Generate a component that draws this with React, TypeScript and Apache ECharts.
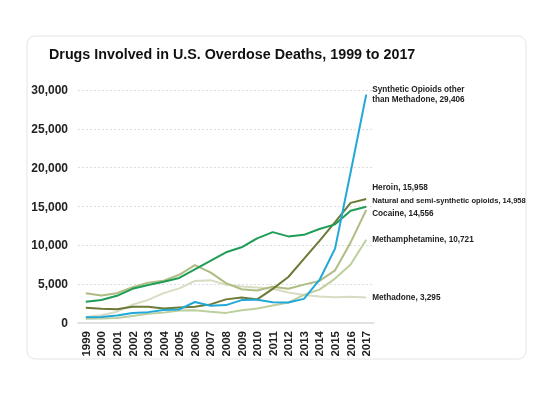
import React, { useEffect, useRef } from 'react';
import * as echarts from 'echarts';

const years = ['1999','2000','2001','2002','2003','2004','2005','2006','2007','2008','2009','2010','2011','2012','2013','2014','2015','2016','2017'];
const synthetic = [730, 782, 957, 1295, 1400, 1664, 1742, 2707, 2213, 2306, 2946, 3007, 2666, 2628, 3105, 5544, 9580, 19413, 29406];
const heroin = [1960, 1842, 1779, 2089, 2080, 1878, 2009, 2088, 2399, 3041, 3278, 3036, 4397, 5925, 8257, 10574, 12989, 15469, 15958];
const natural = [2750, 2950, 3500, 4400, 4900, 5300, 5800, 6900, 8000, 9100, 9750, 10900, 11700, 11150, 11350, 12100, 12700, 14450, 14958];
const cocaine = [3822, 3544, 3833, 4599, 5199, 5443, 6208, 7448, 6512, 5129, 4350, 4183, 4681, 4404, 4944, 5415, 6784, 10375, 14556];
const meth = [547, 578, 637, 916, 1183, 1336, 1606, 1631, 1437, 1302, 1632, 1854, 2266, 2635, 3627, 4298, 5716, 7542, 10721];
const methadone = [784, 988, 1456, 2358, 2972, 3845, 4460, 5406, 5518, 4924, 4696, 4577, 4418, 3932, 3591, 3400, 3301, 3373, 3295];
const yTicks = [0, 5000, 10000, 15000, 20000, 25000, 30000];

const FONT = '"Liberation Sans", Arial, sans-serif';

const seriesDefs = [
  { name: 'Methadone', data: methadone, color: '#d8dcc2', dy: 0, fs: 8.2 },
  { name: 'Methamphetamine', data: meth, color: '#bccf9c', dy: 0, fs: 8.2 },
  { name: 'Cocaine', data: cocaine, color: '#aebd83', dy: 4, fs: 8.2 },
  { name: 'Heroin', data: heroin, color: '#6b7a35', dy: -12, fs: 8.2 },
  { name: 'Natural and semi-synthetic opioids', data: natural, color: '#1f9d56', dy: -6, fs: 7.6 },
  { name: 'Synthetic Opioids other\nthan Methadone', data: synthetic, color: '#22a8d8', dy: 0, fs: 8.2 },
];

export default function App() {
  const ref = useRef<HTMLDivElement>(null);
  useEffect(() => {
    if (!ref.current) return;
    const chart = echarts.init(ref.current, undefined, { renderer: 'svg' });
    chart.setOption({
      animation: false,
      textStyle: { fontFamily: FONT },
      graphic: [
        {
          type: 'rect',
          z: -10,
          shape: { x: 27, y: 36, width: 499, height: 323, r: 8 },
          style: { fill: '#ffffff', stroke: '#e4e4e4', lineWidth: 1 },
        },
      ],
      title: {
        text: 'Drugs Involved in U.S. Overdose Deaths, 1999 to 2017',
        left: 44,
        top: 42,
        textStyle: { fontFamily: FONT, fontSize: 14.3, fontWeight: 'bold', color: '#111' },
      },
      grid: { left: 78, right: 166, top: 90, bottom: 82, containLabel: false },
      xAxis: {
        type: 'category',
        data: years,
        boundaryGap: true,
        axisTick: { show: false },
        axisLine: { lineStyle: { color: '#dcdcdc', width: 1.5 } },
        axisLabel: { rotate: 90, margin: 8, fontSize: 11.5, fontWeight: 'bold', color: '#222', fontFamily: FONT, interval: 0 },
      },
      yAxis: {
        type: 'value',
        min: yTicks[0],
        max: yTicks[yTicks.length - 1],
        interval: 5000,
        axisLine: { show: false },
        axisTick: { show: false },
        splitLine: { lineStyle: { color: '#dddddd', type: [2, 2], width: 1 } },
        axisLabel: {
          margin: 10,
          fontSize: 12,
          fontWeight: 'bold',
          color: '#222',
          fontFamily: FONT,
          formatter: (v: number) => v.toLocaleString('en-US'),
        },
      },
      series: seriesDefs.map((s) => ({
        name: s.name,
        type: 'line',
        data: s.data,
        symbol: 'none',
        lineStyle: { color: s.color, width: 2 },
        itemStyle: { color: s.color },
        endLabel: {
          show: true,
          distance: 6,
          offset: [0, s.dy],
          fontSize: s.fs,
          lineHeight: 10,
          fontWeight: 'bold',
          color: '#222',
          fontFamily: FONT,
          formatter: (p: any) => `${s.name}, ${Number(p.value).toLocaleString('en-US')}`,
        },
      })),
    });
    return () => chart.dispose();
  }, []);
  return <div ref={ref} style={{ position: 'fixed', left: 0, top: 0, width: 540, height: 405 }} />;
}
